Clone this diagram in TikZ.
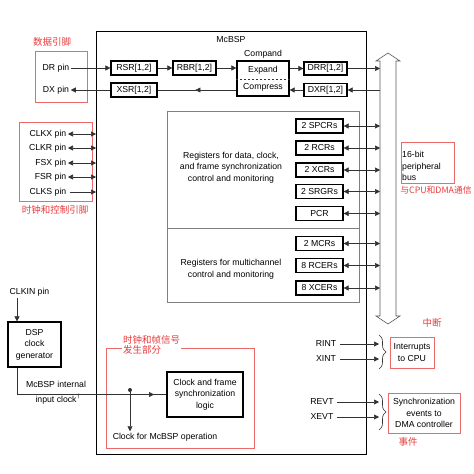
\documentclass[tikz,border=0pt]{standalone}
\usepackage{fontspec}
\setmainfont{Liberation Sans}
\newfontfamily\cjk{Noto Sans CJK SC}
\usetikzlibrary{arrows.meta,decorations.pathreplacing,decorations.markings}
\definecolor{redtxt}{RGB}{232,60,60}
\definecolor{redbox}{RGB}{236,105,105}
\definecolor{lnc}{RGB}{50,50,50}
\begin{document}
\begin{tikzpicture}[x=1pt,y=-1pt,
  font=\fontsize{8.7}{11.5}\selectfont,
  every node/.style={inner sep=1.5pt},
  tip/.tip={Triangle[length=5pt,width=5pt]},
  reg/.style={draw, line width=1.2pt, minimum width=47pt, minimum height=14pt, inner sep=0pt},
  thinln/.style={line width=0.6pt, draw=lnc},
  arr/.style={thinln,-tip},
  darr/.style={thinln,tip-tip},
  midarr/.style={thinln, postaction={decorate}, decoration={markings, mark=at position #1 with {\arrow{tip}}}},
  rbox/.style={draw=redbox, line width=0.8pt, inner sep=0pt},
  rlab/.style={text=redtxt, font=\cjk\fontsize{9.5}{10.5}\selectfont, inner sep=0.5pt},
  brc/.style={thinln, decorate, decoration={brace, amplitude=7pt}},
]
\useasboundingbox (0,0) rectangle (474,474);

% main McBSP box
\node[draw, line width=1.3pt, minimum width=270pt, minimum height=423pt, inner sep=0pt, anchor=north west] (mcbsp) at (96,31) {};
\node (title) at (231,40) {McBSP};

% data pins
\node[rbox, minimum width=52pt, minimum height=51pt, anchor=north west] (datapins) at (35,51) {};
\node[rlab] (datalab) at (52,42) {数据引脚};
\node (drpin) at (56,68) {DR pin};
\node (dxpin) at (56,90) {DX pin};

% data path registers
\node[reg, minimum width=46pt] (rsr) at (134,68) {RSR[1,2]};
\node[reg, minimum width=43pt] (rbr) at (194.5,68) {RBR[1,2]};
\node[reg, minimum width=46pt] (xsr) at (134,90) {XSR[1,2]};
\node[draw, line width=1.2pt, minimum width=52pt, minimum height=35pt, inner sep=0pt] (compand) at (263,78.5) {};
\node (compandlab) at (263,54) {Compand};
\node (expand) at (263,70) {Expand};
\node (compress) at (263,87.5) {Compress};
\draw[thinln, dashed, dash pattern=on 2pt off 2pt] (compand.west |- 0,79) -- (compand.east |- 0,79);
\node[reg, minimum width=43pt, minimum height=13pt] (drr) at (325.5,68.5) {DRR[1,2]};
\node[reg, minimum width=43pt, minimum height=13pt] (dxr) at (325.5,90) {DXR[1,2]};

% bus
\coordinate (busL) at (380,0);
\draw[thinln, draw=gray!70!black] (380,61) -- (376,61) -- (388,53) -- (400,61) -- (396,61) -- (396,316) -- (400,316) -- (388,324) -- (376,316) -- (380,316) -- cycle;

\draw[arr] (drpin.east) -- (rsr.west);
\draw[arr] (rsr.east) -- (rbr.west);
\draw[arr] (rbr.east) -- (rbr.east -| compand.west);
\draw[arr] (drr.west -| compand.east) -- (drr.west);
\draw[arr] (drr.east) -- (drr.east -| busL);
\draw[arr] (dxr.east -| busL) -- (dxr.east);
\draw[arr] (dxr.west) -- (dxr.west -| compand.east);
\draw[midarr=0.52] (xsr.east -| compand.west) -- (xsr.east);
\draw[arr] (xsr.west) -- (dxpin.east);

% control pins
\node[rbox, minimum width=73pt, minimum height=79pt, anchor=north west] (ctlpins) at (19,122) {};
\node[anchor=east] (clkxp) at (68,134) {CLKX pin};
\node[anchor=east] (clkrp) at (68,148) {CLKR pin};
\node[anchor=east] (fsxp) at (68,163) {FSX pin};
\node[anchor=east] (fsrp) at (68,177) {FSR pin};
\node[anchor=east] (clksp) at (68,192) {CLKS pin};
\node[rlab] (ctllab) at (55,210) {时钟和控制引脚};
\draw[darr] (clkxp.east) -- (clkxp.east -| mcbsp.west);
\draw[darr] (clkrp.east) -- (clkrp.east -| mcbsp.west);
\draw[darr] (fsxp.east) -- (fsxp.east -| mcbsp.west);
\draw[darr] (fsrp.east) -- (fsrp.east -| mcbsp.west);
\draw[arr] ([xshift=2pt]clksp.east) -- (clksp.east -| mcbsp.west);

% register group box
\node[draw=gray, line width=0.7pt, minimum width=192pt, minimum height=191pt, inner sep=0pt, anchor=north west] (regbox) at (167,111) {};
\draw[gray, line width=0.7pt] (regbox.west |- 0,228) -- (regbox.east |- 0,228);
\node[align=center] (regtxt1) at (231,167.5) {Registers for data, clock,\\and frame synchronization\\control and monitoring};
\node[align=center] (regtxt2) at (231,269) {Registers for multichannel\\control and monitoring};

\node[reg] (spcr) at (319.5,126) {2 SPCRs};
\node[reg] (rcr) at (319.5,148) {2 RCRs};
\node[reg] (xcr) at (319.5,170) {2 XCRs};
\node[reg] (srgr) at (319.5,191.5) {2 SRGRs};
\node[reg] (pcr) at (319.5,213.5) {PCR};
\node[reg] (mcr) at (319.5,243.5) {2 MCRs};
\node[reg] (rcer) at (319.5,265.5) {8 RCERs};
\node[reg] (xcer) at (319.5,288) {8 XCERs};
\foreach \r in {spcr,rcr,xcr,srgr,pcr,mcr,rcer,xcer}
  \draw[darr] (\r.east) -- (\r.east -| busL);

% bus label
\node[rbox, minimum width=53pt, minimum height=41pt, anchor=north west] (busbox) at (401,142) {};
\node[align=left, anchor=west, inner sep=0pt] (bustext) at (402,166) {16-bit\\peripheral\\bus};
\node[rlab, font=\cjk\fontsize{8.8}{10}\selectfont] (buslab) at (436,190) {与CPU和DMA通信};

% clock generator
\node (clkin) at (29.5,292) {CLKIN pin};
\node[draw, line width=1.2pt, minimum width=53pt, minimum height=45pt, inner sep=0pt, align=center] (dsp) at (34.5,344.5) {DSP\\clock\\generator};
\coordinate (clkxx) at (17,0);
\draw[arr] (clkin.south -| clkxx) -- (dsp.north -| clkxx);
\node (intclk1) at (56,384) {McBSP internal};
\node (intclk2) at (58,399) {input clock\textsuperscript{†}};

\node[rbox, minimum width=148pt, minimum height=100pt, anchor=north west] (cgbox) at (106,348) {};
\node[rlab, fill=white, align=left, anchor=west, inner sep=1pt, font=\cjk\fontsize{9.5}{10}\selectfont] (cglab) at (122,345) {时钟和帧信号\\发生部分};

\node[draw, line width=1.2pt, minimum width=76pt, minimum height=45pt, inner sep=0pt, align=center] (cfs) at (205,394.5) {Clock and frame\\synchronization\\logic};
\draw[midarr=0.93] (dsp.south -| clkxx) |- (cfs.west);
\coordinate (junc) at (130,390);
\fill[lnc] (junc) circle (2pt);
\node (opclk) at (165,437) {Clock for McBSP operation};
\draw[arr] (junc) -- (junc |- opclk.north);

% interrupts
\node (rint) at (326,344) {RINT};
\node (xint) at (326,359) {XINT};
\coordinate (brA1) at (379,335);
\coordinate (brA2) at (379,369);
\draw[brc] (brA1) -- (brA2);
\draw[arr] ([xshift=2pt]rint.east) -- (rint.east -| brA1);
\draw[arr] ([xshift=2pt]xint.east) -- (xint.east -| brA1);
\node[rbox, minimum width=44pt, minimum height=31pt, align=center] (intbox) at (412,352.5) {Interrupts\\to CPU};
\node[rlab] (intlab) at (432,323) {中断};

% events
\node (revt) at (322,402) {REVT};
\node (xevt) at (322,417) {XEVT};
\coordinate (brB1) at (379,394);
\coordinate (brB2) at (379,430);
\draw[brc] (brB1) -- (brB2);
\draw[arr] ([xshift=2pt]revt.east) -- (revt.east -| brB1);
\draw[arr] ([xshift=2pt]xevt.east) -- (xevt.east -| brB1);
\node[rbox, minimum width=72pt, minimum height=40pt, align=center] (evtbox) at (424,413) {Synchronization\\events to\\DMA controller};
\node[rlab] (evtlab) at (408,442) {事件};
\end{tikzpicture}
\end{document}
